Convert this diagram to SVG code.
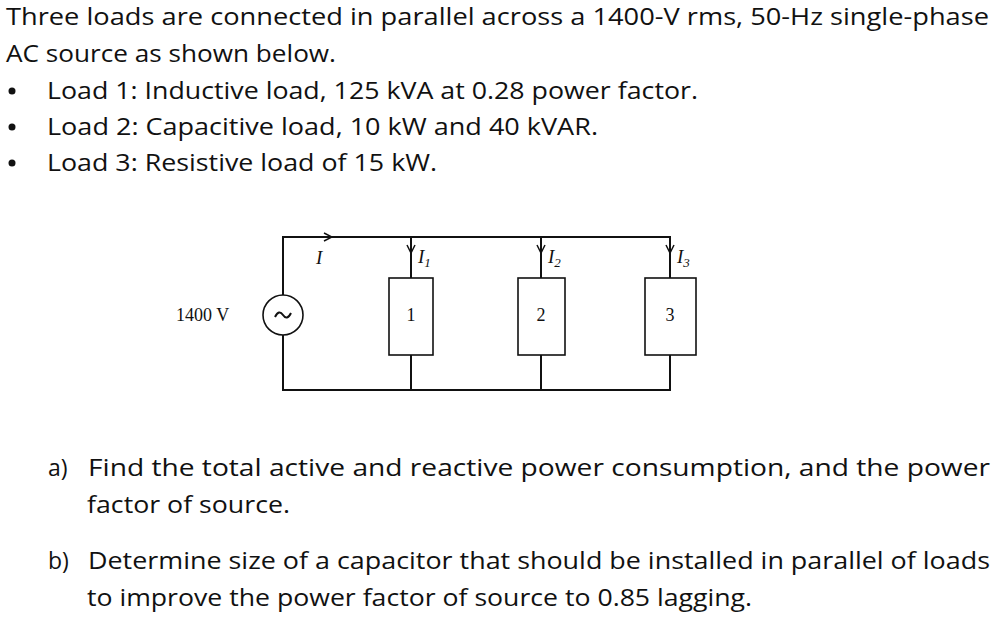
<svg xmlns="http://www.w3.org/2000/svg" width="997" height="617" viewBox="0 0 997 617">
<style>
.t{font-family:"Open Sans","Liberation Sans",sans-serif;font-size:23px;fill:#111}
.c{font-family:"Liberation Serif",serif;font-size:18px;fill:#111}
.ci{font-family:"Liberation Serif",serif;font-size:19px;font-style:italic;fill:#111}
.w{stroke:#111;stroke-width:2;fill:none}
.b{stroke:#111;stroke-width:1.6;fill:#fff}
</style>
<defs><marker id="ar" markerWidth="10" markerHeight="10" refX="9" refY="5" orient="auto" markerUnits="userSpaceOnUse"><path d="M1,1 L9,5 L1,9" fill="none" stroke="#111" stroke-width="1.5"/></marker></defs>
<rect width="997" height="617" fill="#fff"/>
<g id="text">
<text class="t" x="6" y="25" textLength="983" lengthAdjust="spacingAndGlyphs">Three loads are connected in parallel across a 1400-V rms, 50-Hz single-phase</text>
<text class="t" x="6" y="62" textLength="330" lengthAdjust="spacingAndGlyphs">AC source as shown below.</text>
<circle cx="12" cy="91" r="3.5" fill="#111"/><text class="t" x="47" y="99" textLength="651" lengthAdjust="spacingAndGlyphs">Load 1: Inductive load, 125 kVA at 0.28 power factor.</text>
<circle cx="12" cy="127" r="3.5" fill="#111"/><text class="t" x="47" y="135" textLength="551" lengthAdjust="spacingAndGlyphs">Load 2: Capacitive load, 10 kW and 40 kVAR.</text>
<circle cx="12" cy="163" r="3.5" fill="#111"/><text class="t" x="47" y="171" textLength="390" lengthAdjust="spacingAndGlyphs">Load 3: Resistive load of 15 kW.</text>
<text class="t" x="48" y="476">a)</text>
<text class="t" x="88" y="476" textLength="902" lengthAdjust="spacingAndGlyphs">Find the total active and reactive power consumption, and the power</text>
<text class="t" x="87" y="513" textLength="203" lengthAdjust="spacingAndGlyphs">factor of source.</text>
<text class="t" x="48" y="569">b)</text>
<text class="t" x="88" y="569" textLength="902" lengthAdjust="spacingAndGlyphs">Determine size of a capacitor that should be installed in parallel of loads</text>
<text class="t" x="87" y="606" textLength="665" lengthAdjust="spacingAndGlyphs">to improve the power factor of source to 0.85 lagging.</text>
</g>
<g id="connectors">
<path class="w" d="M283,295 V237 H670 V278 M283,335 V390 H670 V355 M411,237 V278 M411,355 V390 M541,237 V278 M541,355 V390"/>
<path class="w" d="M318,237 H332" marker-end="url(#ar)"/>
<path class="w" d="M411,240 V253" marker-end="url(#ar)"/>
<path class="w" d="M541,240 V253" marker-end="url(#ar)"/>
<path class="w" d="M670,240 V253" marker-end="url(#ar)"/>
<text class="ci" x="316" y="264">I</text>
<text class="ci" x="418" y="263">I<tspan font-size="13" dy="4">1</tspan></text>
<text class="ci" x="548" y="263">I<tspan font-size="13" dy="4">2</tspan></text>
<text class="ci" x="677" y="263">I<tspan font-size="13" dy="4">3</tspan></text>
</g>
<g id="source"><circle class="b" cx="283" cy="315" r="20"/><path d="M275,317 q4,-8 8,-2 t8,-2" class="w" stroke-width="1.5"/><text class="c" x="176" y="321">1400 V</text></g>
<g id="load1"><rect class="b" x="389" y="278" width="44" height="77"/><text class="c" x="411" y="321" text-anchor="middle" font-size="17">1</text></g>
<g id="load2"><rect class="b" x="518" y="278" width="47" height="77"/><text class="c" x="541" y="321" text-anchor="middle" font-size="17">2</text></g>
<g id="load3"><rect class="b" x="645" y="278" width="51" height="77"/><text class="c" x="670" y="321" text-anchor="middle" font-size="17">3</text></g>
</svg>
